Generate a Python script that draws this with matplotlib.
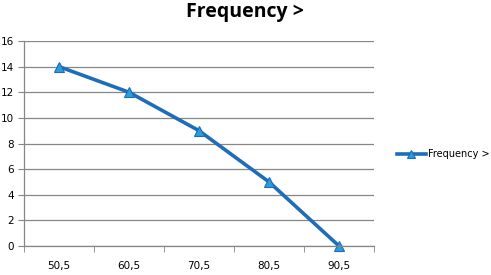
import numpy as np
import matplotlib.pyplot as plt

categories = ["50,5", "60,5", "70,5", "80,5", "90,5"]
freq = [14, 12, 9, 5, 0]
series_name = "Frequency >"

fig = plt.figure(figsize=(4.91, 2.75), dpi=100)
ax = fig.add_axes([24 / 491, 1 - 246 / 275, 350 / 491, 205 / 275])

x = np.arange(len(categories))
ax.plot(x, freq, color="#1F6DB8", lw=2.6, marker="^", ms=7,
        mfc="#2A9DE0", mec="#1F6DB8", mew=0.8, label=series_name, clip_on=False)

ax.set_xlim(-0.5, len(categories) - 0.5)
ax.set_ylim(0, 16)
ax.set_yticks(range(0, 17, 2))
ax.grid(axis="y", color="#868686", lw=0.9)
ax.set_axisbelow(True)

ax.set_xticks(x)
ax.set_xticklabels(categories)
ax.set_xticks(np.arange(-0.5, len(categories), 1), minor=True)
ax.tick_params(axis="x", which="major", length=0, pad=11, labelsize=7.5)
ax.tick_params(axis="x", which="minor", length=4, color="#868686", direction="out")
ax.tick_params(axis="y", length=4, color="#868686", labelsize=7.5, pad=3)

for s in ["top", "right"]:
    ax.spines[s].set_visible(False)
for s in ["left", "bottom"]:
    ax.spines[s].set_color("#868686")
    ax.spines[s].set_linewidth(0.9)

fig.text(245 / 491, 1 - 12 / 275, "Frequency >", ha="center", va="center",
         fontsize=14, fontweight="bold", family="Open Sans")

fig.legend(loc="center left", bbox_to_anchor=(388 / 491, 1 - 154 / 275),
           frameon=False, fontsize=7, handlelength=3, handletextpad=0.2,
           markerscale=0.8)

fig.savefig("out.png", dpi=100)
